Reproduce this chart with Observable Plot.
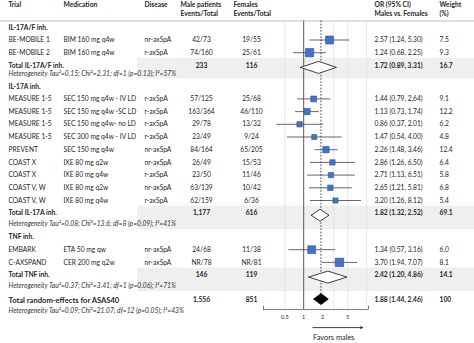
<!DOCTYPE html>
<html><head><meta charset="utf-8">
<script src="https://cdn.jsdelivr.net/npm/d3@7"></script>
<script src="https://cdn.jsdelivr.net/npm/@observablehq/plot@0.6"></script>
<style>
html,body{margin:0;padding:0;background:#fff;}
#chart svg{display:block;}
</style></head><body><div id="chart"></div>
<script>
// ---------- DATA ----------
const headerLine1 = ["Trial", "Medication", "Disease", "Male patients", "Females", "OR (95% CI)", "Weight"];
const headerLine2 = ["", "", "", "Events/Total", "Events/Total", "Males vs. Females", "(%)"];

const subgroupNames = ["IL-17A/F inh.", "IL-17A inh.", "TNF inh."];
const studyGroup = [0, 0, 1, 1, 1, 1, 1, 1, 1, 1, 1, 2, 2];
const trials = ["BE-MOBILE 1", "BE-MOBILE 2", "MEASURE 1-5", "MEASURE 1-5", "MEASURE 1-5", "MEASURE 1-5", "PREVENT", "COAST X", "COAST X", "COAST V, W", "COAST V, W", "EMBARK", "C-AXSPAND"];
const medications = ["BIM 160 mg q4w", "BIM 160 mg q4w", "SEC 150 mg q4w - IV LD", "SEC 150 mg q4w -SC LD", "SEC 150 mg q4w- no LD", "SEC 300 mg q4w - IV LD", "SEC 150 mg q4w", "IXE 80 mg q2w", "IXE 80 mg q4w", "IXE 80 mg q2w", "IXE 80 mg q4w", "ETA 50 mg qw", "CER 200 mg q2w"];
const diseases = ["nr-axSpA", "r-axSpA", "r-axSpA", "r-axSpA", "r-axSpA", "r-axSpA", "nr-axSpA", "nr-axSpA", "r-axSpA", "nr-axSpA", "r-axSpA", "nr-axSpA", "nr-axSpA"];
const maleEvents = ["42/73", "74/160", "57/125", "163/364", "29/78", "23/49", "84/164", "26/49", "23/50", "63/139", "62/159", "24/68", "NR/78"];
const femaleEvents = ["19/55", "25/61", "25/68", "46/110", "13/32", "9/24", "65/205", "15/53", "11/46", "10/42", "6/36", "11/38", "NR/81"];
const oddsRatios = [2.57, 1.24, 1.44, 1.13, 0.86, 1.47, 2.26, 2.86, 2.71, 2.65, 3.20, 1.34, 3.70];
const ciLow = [1.24, 0.68, 0.79, 0.73, 0.37, 0.54, 1.48, 1.26, 1.13, 1.21, 1.26, 0.57, 1.94];
const ciHigh = [5.30, 2.25, 2.64, 1.74, 2.01, 4.00, 3.46, 6.50, 6.51, 5.81, 8.12, 3.16, 7.07];
const weights = [7.5, 9.3, 9.1, 12.2, 6.2, 4.8, 12.4, 6.4, 5.8, 6.8, 5.4, 6.0, 8.1];

const totalLabels = ["Total IL-17A/F inh.", "Total IL-17A inh.", "Total TNF inh."];
const totalMale = ["233", "1,177", "146"];
const totalFemale = ["116", "616", "119"];
const totalOR = [1.72, 1.82, 2.42];
const totalLow = [0.89, 1.32, 1.20];
const totalHigh = [3.31, 2.52, 4.86];
const totalWeight = [16.7, 69.1, 14.1];
const heterogeneity = [
  "Heterogeneity Tau\u00b2=0.15; Chi\u00b2=2.31; df=1 (p=0.13); I\u00b2=57%",
  "Heterogeneity Tau\u00b2=0.08; Chi\u00b2=13.6; df=8 (p=0.09); I\u00b2=41%",
  "Heterogeneity Tau\u00b2=0.37; Chi\u00b2=3.41; df=1 (p=0.06); I\u00b2=71%"
];

const overallLabel = "Total random-effects for ASAS40";
const overallMale = "1,556";
const overallFemale = "851";
const overallOR = 1.88;
const overallLow = 1.44;
const overallHigh = 2.46;
const overallWeight = 100;
const overallHeterogeneity = "Heterogeneity Tau\u00b2=0.09; Chi\u00b2=21.07; df=12 (p=0.05); I\u00b2=43%";

const axisTicks = [0.5, 1, 2, 5];
const axisDomain = [0.23, 10.7];
const axisCaption = "Favors males";

// ---------- LAYOUT ----------
const W = 474, H = 343;
const FONT = "Lato, 'Open Sans', sans-serif";
const INK = "#262626";
const FS = 6.7;
const col = {trial: 8, med: 63, dis: 144, male: 201, maleHead: 180, female: 251, femaleHead: 233, or: 374, weight: 439};
const fmtCI = (o, l, h) => `${o.toFixed(2)} (${l.toFixed(2)}, ${h.toFixed(2)})`;

const groupRows = [], studyRows = [], totalRows = [], hetRows = [], bands = [];
let y = 27;
subgroupNames.forEach((name, g) => {
  if (g > 0) y += 13;
  groupRows.push({y, label: name});
  y += 12.5;
  trials.forEach((t, i) => {
    if (studyGroup[i] !== g) return;
    studyRows.push({
      y, trial: t, med: medications[i], dis: diseases[i], male: maleEvents[i], female: femaleEvents[i],
      or: oddsRatios[i], lo: ciLow[i], hi: ciHigh[i],
      r: 16 * Math.sqrt(weights[i] / totalWeight[g]) / Math.sqrt(Math.PI),
      ci: fmtCI(oddsRatios[i], ciLow[i], ciHigh[i]), wt: weights[i].toFixed(1)
    });
    y += 12.7;
  });
  const ty = y;
  totalRows.push({y: ty, label: totalLabels[g], male: totalMale[g], female: totalFemale[g],
    or: totalOR[g], lo: totalLow[g], hi: totalHigh[g], ci: fmtCI(totalOR[g], totalLow[g], totalHigh[g]),
    wt: totalWeight[g].toFixed(1), id: g});
  y += (g === 0 ? 8 : 11);
  hetRows.push({y, label: heterogeneity[g]});
  bands.push({y1: ty - 7, y2: y + 5.5});
});
y += 14;
const overallRow = {y, label: overallLabel, male: overallMale, female: overallFemale,
  or: overallOR, lo: overallLow, hi: overallHigh, ci: fmtCI(overallOR, overallLow, overallHigh), wt: String(overallWeight), id: 9};
y += 11;
hetRows.push({y, label: overallHeterogeneity});

const headerY1 = 4.5, headerY2 = 13.5, headerRule = 20.5;
const axisY = overallRow.y + 9.5;

function diamond(r, dy, half) {
  const c = r.y + dy;
  return [
    {id: r.id, x: r.lo, y: c}, {id: r.id, x: r.or, y: c - half},
    {id: r.id, x: r.hi, y: c}, {id: r.id, x: r.or, y: c + half}, {id: r.id, x: r.lo, y: c}
  ];
}
const subDiamonds = totalRows.flatMap(r => diamond(r, 2, 6));
const allDiamond = diamond(overallRow, -1, 5.5);

const headCols = [col.trial, col.med, col.dis, col.maleHead, col.femaleHead, col.or, col.weight];
const headers = headerLine1.map((t, i) => ({t1: t, t2: headerLine2[i], x: headCols[i]}));

const txt = (data, opts) => Plot.text(data, {frameAnchor: "left", textAnchor: "start", fill: INK, fontFamily: FONT, fontSize: FS, ...opts});

const chart = Plot.plot({
  width: W, height: H,
  marginTop: 0, marginRight: 0, marginBottom: 0, marginLeft: 0,
  style: {fontFamily: FONT, background: "#fff"},
  x: {type: "log", domain: axisDomain, range: [263, 368], axis: null},
  y: {domain: [0, H], range: [0, H], axis: null},
  marks: [
    Plot.rect(bands, {y1: "y1", y2: "y2", x1: axisDomain[0] / 100, x2: axisDomain[1] * 1e4, fill: "#efefef", clip: true}),
    Plot.ruleY([headerRule], {stroke: "#bdbdbd", strokeWidth: 1}),
    Plot.ruleX([0.5, 3, 5, 10], {y1: headerRule, y2: axisY, stroke: "#e2e2e2", strokeWidth: 0.8}),
    Plot.ruleX([1], {y1: headerRule, y2: axisY, stroke: "#5a5a5a", strokeWidth: 1}),
    Plot.ruleX([overallOR], {y1: headerRule, y2: overallRow.y - 6, stroke: "#404040", strokeWidth: 1, strokeDasharray: "1.6,1.6"}),
    Plot.link(studyRows, {x1: "lo", x2: "hi", y1: "y", y2: "y", stroke: "#404040", strokeWidth: 0.8}),
    Plot.dot(studyRows, {x: "or", y: "y", r: "r", symbol: "square", fill: "#4472c4", stroke: "#2f528f", strokeWidth: 0.6}),
    Plot.line(subDiamonds, {x: "x", y: "y", z: "id", fill: "#fff", stroke: "#111", strokeWidth: 0.8, curve: "linear"}),
    Plot.line(allDiamond, {x: "x", y: "y", z: "id", fill: "#000", stroke: "#000", strokeWidth: 0.8, curve: "linear"}),
    // axis
    Plot.ruleY([axisY], {x1: axisDomain[0], x2: axisDomain[1], stroke: "#555", strokeWidth: 0.8}),
    Plot.ruleX(axisDomain, {y1: axisY - 3.5, y2: axisY + 0.5, stroke: "#555", strokeWidth: 0.8}),
    Plot.text(axisTicks, {x: d => d, y: axisY + 8, text: d => String(d), fontSize: 5.5, fill: INK, fontFamily: FONT}),
    Plot.arrow([0], {x1: 1.4, x2: 8.6, y1: axisY + 18, y2: axisY + 18, stroke: "#111", strokeWidth: 0.8, headLength: 4, headAngle: 50}),
    Plot.text([axisCaption], {x: 3, y: axisY + 28, text: d => d, fontSize: 7.4, fill: INK, fontFamily: FONT}),
    // headers
    ...headers.map(h => txt([h], {y: headerY1, dx: h.x, text: "t1", fontWeight: "bold"})),
    ...headers.map(h => txt([h], {y: headerY2, dx: h.x, text: "t2", fontWeight: "bold"})),
    // table text
    txt(groupRows, {y: "y", dx: col.trial, text: "label", fontWeight: "bold"}),
    txt(studyRows, {y: "y", dx: col.trial, text: "trial"}),
    txt(studyRows, {y: "y", dx: col.med, text: "med"}),
    txt(studyRows, {y: "y", dx: col.dis, text: "dis"}),
    txt(studyRows, {y: "y", dx: col.male, text: "male", textAnchor: "middle"}),
    txt(studyRows, {y: "y", dx: col.female, text: "female", textAnchor: "middle"}),
    txt(studyRows, {y: "y", dx: col.or, text: "ci"}),
    txt(studyRows, {y: "y", dx: col.weight, text: "wt"}),
    txt(totalRows, {y: "y", dx: col.trial, text: "label", fontWeight: "bold"}),
    txt(totalRows, {y: "y", dx: col.male, text: "male", textAnchor: "middle", fontWeight: "bold"}),
    txt(totalRows, {y: "y", dx: col.female, text: "female", textAnchor: "middle", fontWeight: "bold"}),
    txt(totalRows, {y: "y", dx: col.or, text: "ci", fontWeight: "bold"}),
    txt(totalRows, {y: "y", dx: col.weight, text: "wt", fontWeight: "bold"}),
    txt([overallRow], {y: "y", dx: col.trial, text: "label", fontWeight: "bold", fontSize: 7.6}),
    txt([overallRow], {y: "y", dx: col.male, text: "male", textAnchor: "middle", fontWeight: "bold"}),
    txt([overallRow], {y: "y", dx: col.female, text: "female", textAnchor: "middle", fontWeight: "bold"}),
    txt([overallRow], {y: "y", dx: col.or, text: "ci", fontWeight: "bold"}),
    txt([overallRow], {y: "y", dx: col.weight, text: "wt", fontWeight: "bold"}),
    txt(hetRows, {y: "y", dx: col.trial, text: "label", fontStyle: "italic", fontSize: 6.7, fill: "#333"})
  ]
});
document.getElementById("chart").appendChild(chart);
</script></body></html>
